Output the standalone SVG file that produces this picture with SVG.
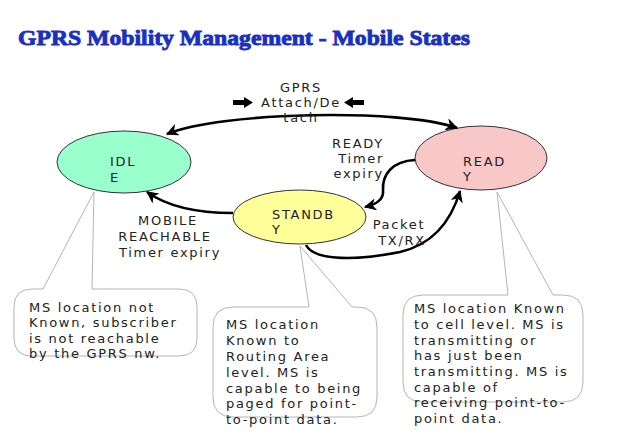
<svg xmlns="http://www.w3.org/2000/svg" width="638" height="442" viewBox="0 0 638 442">
<style>
.t{font-family:"DejaVu Sans","Liberation Sans",sans-serif;font-size:13px;letter-spacing:1.7px;fill:#222}
.c{text-anchor:middle}
.e{text-anchor:end}
.co{fill:#fff;stroke:#b4b4b4;stroke-width:1}
.st{stroke:#333;stroke-width:1}
.cn{fill:none;stroke:#000;stroke-width:2.6}
.title{font-family:"Liberation Serif","Times New Roman",serif;font-weight:bold;font-size:22px;fill:#1a30c0;stroke:#1a30c0;stroke-width:0.9}
</style>
<defs>
<marker id="arr" viewBox="-11 -6 12 12" markerWidth="12" markerHeight="12" refX="0" refY="0" orient="auto-start-reverse" markerUnits="userSpaceOnUse">
<path d="M-10,-5 L0,0 L-10,5 L-7,0 Z" fill="#000" stroke="#000" stroke-width="1" stroke-linejoin="miter"/>
</marker>
</defs>
<rect width="638" height="442" fill="#fff"/>
<text class="title" x="18" y="45" textLength="452" lengthAdjust="spacingAndGlyphs">GPRS Mobility Management - Mobile States</text>

<g id="callout-idle">
<path class="co" d="M32,289 L43,289 L94,192 L92,289 L179,289 Q197,289 197,307 L197,338 Q197,356 179,356 L32,356 Q14,356 14,338 L14,307 Q14,289 32,289 Z"/>
<text class="t" x="29" y="312">MS location not</text>
<text class="t" x="29" y="327">Known, subscriber</text>
<text class="t" x="29" y="343">is not reachable</text>
<text class="t" x="29" y="358">by the GPRS nw.</text>
</g>
<g id="callout-standby">
<path class="co" d="M233,307 L309,307 L300,246 L352,307 L357,307 Q377,307 377,327 L377,397 Q377,417 357,417 L233,417 Q213,417 213,397 L213,327 Q213,307 233,307 Z"/>
<text class="t" x="226" y="329">MS location</text>
<text class="t" x="226" y="345">Known to</text>
<text class="t" x="226" y="361">Routing Area</text>
<text class="t" x="226" y="377">level. MS is</text>
<text class="t" x="226" y="393">capable to being</text>
<text class="t" x="226" y="408">paged for point-</text>
<text class="t" x="226" y="424">to-point data.</text>
</g>
<g id="callout-ready">
<path class="co" d="M423,295 L508,295 L497,192 L553,295 L563,295 Q583,295 583,315 L583,382 Q583,402 563,402 L423,402 Q403,402 403,382 L403,315 Q403,295 423,295 Z"/>
<text class="t" x="414" y="313">MS location Known</text>
<text class="t" x="414" y="329">to cell level. MS is</text>
<text class="t" x="414" y="345">transmitting or</text>
<text class="t" x="414" y="360">has just been</text>
<text class="t" x="414" y="376">transmitting. MS is</text>
<text class="t" x="414" y="392">capable of</text>
<text class="t" x="414" y="407">receiving point-to-</text>
<text class="t" x="414" y="423">point data.</text>
</g>

<g id="idle">
<ellipse class="st" cx="124" cy="162" rx="67" ry="31" fill="#99ffcc"/>
<text class="t" x="110" y="166">IDL</text>
<text class="t" x="110" y="182">E</text>
</g>
<g id="ready">
<ellipse class="st" cx="481" cy="158" rx="66" ry="32" fill="#f8c8c8"/>
<text class="t" x="463" y="166">READ</text>
<text class="t" x="463" y="181">Y</text>
</g>
<g id="standby">
<ellipse class="st" cx="299.5" cy="217" rx="66.5" ry="27" fill="#ffff99"/>
<text class="t" x="272" y="219">STANDB</text>
<text class="t" x="272" y="234">Y</text>
</g>

<g id="connectors">
<path class="cn" d="M167,134 C220,112 400,108 457,128" marker-start="url(#arr)" marker-end="url(#arr)"/>
<path class="cn" d="M415,160 C392,161 382,175 383,190 C384,198 378,204 365,207" marker-end="url(#arr)"/>
<path class="cn" d="M306,245 C315,262 360,260 400,252 C430,245 450,225 460,191" marker-end="url(#arr)"/>
<path class="cn" d="M233,213 C200,213 168,207 147,192" marker-end="url(#arr)"/>
<polygon points="233,100 244,100 244,97 253,102.5 244,108 244,105 233,105" fill="#000"/>
<polygon points="364,100 353,100 353,97 344,102.5 353,108 353,105 364,105" fill="#000"/>
<text class="t c" x="301" y="92">GPRS</text>
<text class="t c" x="301" y="107">Attach/De</text>
<text class="t c" x="301" y="122">tach</text>
<text class="t e" x="384" y="148">READY</text>
<text class="t e" x="384" y="163">Timer</text>
<text class="t e" x="384" y="178">expiry</text>
<text class="t c" x="168" y="225">MOBILE</text>
<text class="t c" x="165" y="241">REACHABLE</text>
<text class="t c" x="170" y="257">Timer expiry</text>
<text class="t c" x="399" y="229">Packet</text>
<text class="t c" x="402" y="245">TX/RX</text>
</g>
</svg>
